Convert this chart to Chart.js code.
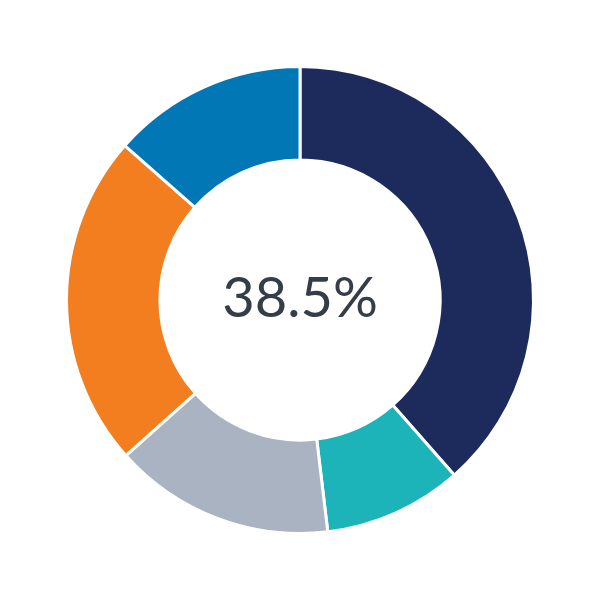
<!DOCTYPE html>
<html>
<head>
<meta charset="utf-8">
<script src="https://cdn.jsdelivr.net/npm/chart.js@4.4.0/dist/chart.umd.min.js"></script>
<style>
  html, body { margin: 0; padding: 0; background: #fff; }
  #wrap { position: relative; width: 600px; height: 600px; }
  #center {
    position: absolute; left: 0; top: 0; width: 600px; height: 600px;
    display: flex; align-items: center; justify-content: center;
    font-family: Lato, "Open Sans", sans-serif; font-size: 56px; color: #343d48;
    pointer-events: none;
  }
  #center span { position: relative; top: -5px; }
</style>
</head>
<body>
<div id="wrap">
  <canvas id="donut" width="600" height="600"></canvas>
  <div id="center"><span id="centerLabel"></span></div>
</div>
<script>
// datos del gráfico (porcentajes)
const categorias = ['Segmento A', 'Segmento B', 'Segmento C', 'Segmento D', 'Segmento E'];
const valores = [38.5, 9.6, 15.3, 23.1, 13.5];
const colores = ['#1c2b5b', '#1cb4b8', '#a9b3c1', '#f37e20', '#0177b5'];
const etiquetaCentral = '38.5%';

document.getElementById('centerLabel').textContent = etiquetaCentral;

const ctx = document.getElementById('donut').getContext('2d');
new Chart(ctx, {
  type: 'doughnut',
  data: {
    labels: categorias,
    datasets: [{
      data: valores,
      backgroundColor: colores,
      borderColor: '#ffffff',
      borderWidth: 3
    }]
  },
  options: {
    responsive: false,
    animation: false,
    cutout: '60%',
    layout: { padding: 65 },
    plugins: {
      legend: { display: false },
      tooltip: { enabled: false }
    }
  }
});
</script>
</body>
</html>
